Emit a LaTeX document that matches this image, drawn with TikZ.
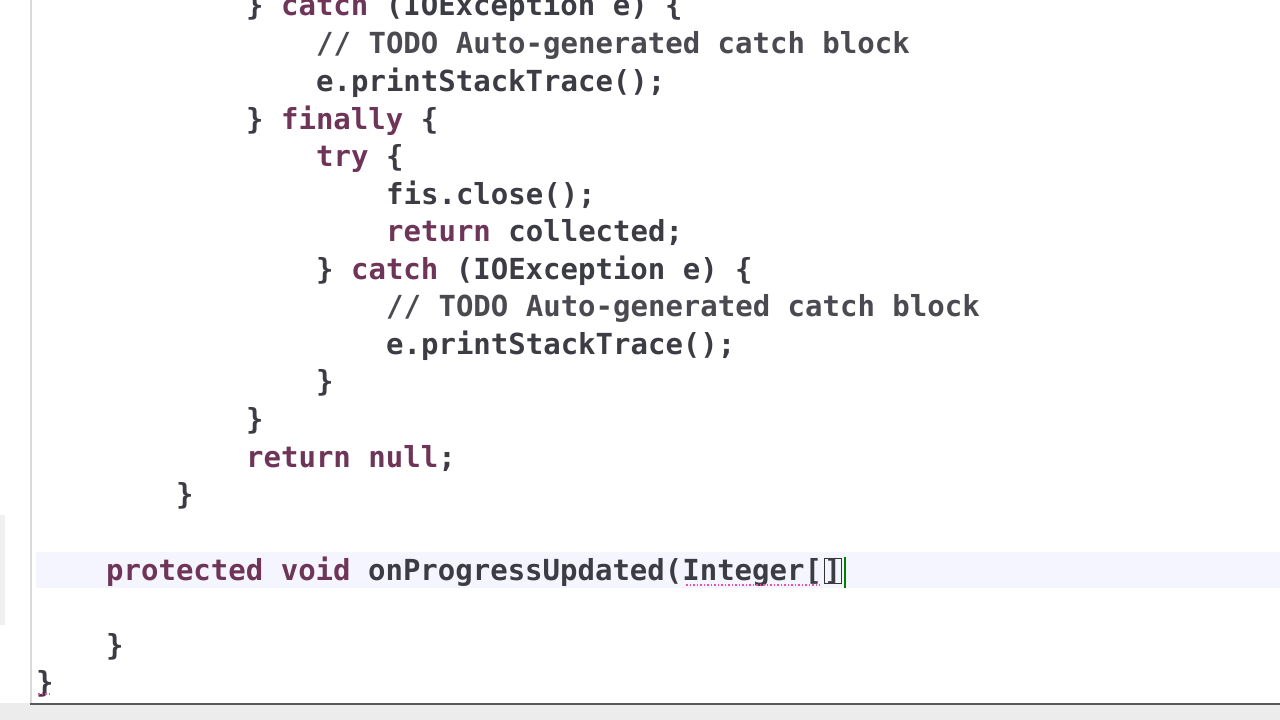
\documentclass[tikz,border=0pt]{standalone}
\usepackage{fontspec}
\setmonofont{DejaVu Sans Mono}
\usetikzlibrary{decorations.pathmorphing}
\definecolor{kw}{HTML}{6E3558}
\definecolor{tx}{HTML}{3C3C44}
\definecolor{cm}{HTML}{4A4A50}
\newcommand{\K}[1]{\textcolor{kw}{#1}}
\tikzset{code/.style={anchor=base west,inner sep=0pt,text=tx,font=\ttfamily\bfseries\fontsize{29}{29}\selectfont}}
\begin{document}
\begin{tikzpicture}[x=1pt,y=-1pt]
\useasboundingbox (0,0) rectangle (1280,720);
\fill[white] (0,0) rectangle (1280,720);
\fill[blue!4] (36,552) rectangle (1280,588);
\draw[gray!30,line width=1.5pt] (31,0) -- (31,703);
\fill[gray!12] (0,515) rectangle (5,625);
\fill[gray!15] (0,703) rectangle (1280,720);
\draw[gray!70!black,line width=1.5pt] (30,704) -- (1280,704);
\def\cx#1{\fpeval{36+17.5*#1}}
\node[code] (l1) at (\cx{12},16) {\} \K{catch} (IOException e) \{};
\node[code] (l2) at (\cx{16},53) {\textcolor{cm}{// TODO Auto-generated catch block}};
\node[code] (l3) at (\cx{16},91) {e.printStackTrace();};
\node[code] (l4) at (\cx{12},129) {\} \K{finally} \{};
\node[code] (l5) at (\cx{16},166) {\K{try} \{};
\node[code] (l6) at (\cx{20},204) {fis.close();};
\node[code] (l7) at (\cx{20},241) {\K{return} collected;};
\node[code] (l8) at (\cx{16},279) {\} \K{catch} (IOException e) \{};
\node[code] (l9) at (\cx{20},316) {\textcolor{cm}{// TODO Auto-generated catch block}};
\node[code] (l10) at (\cx{20},354) {e.printStackTrace();};
\node[code] (l11) at (\cx{16},391) {\}};
\node[code] (l12) at (\cx{12},429) {\}};
\node[code] (l13) at (\cx{12},467) {\K{return} \K{null};};
\node[code] (l14) at (\cx{8},504) {\}};
\node[code] (l15) at (\cx{4},580) {\K{protected} \K{void} onProgressUpdated(Integer[};
\node[code,draw=black!80,line width=0.8pt] (br) at (\cx{45},580) {]};
\node[code] (l16) at (\cx{4},655) {\}};
\node[code] (l17) at (\cx{0},692) {\}};
\draw[magenta!70,line width=1.5pt,dotted] (686,585) -- (820,585);
\draw[magenta!70,line width=1.5pt,dotted] (38,694) -- (52,694);
\draw[green!50!black,line width=1.2pt] (845,557) -- (845,588);
\end{tikzpicture}
\end{document}
